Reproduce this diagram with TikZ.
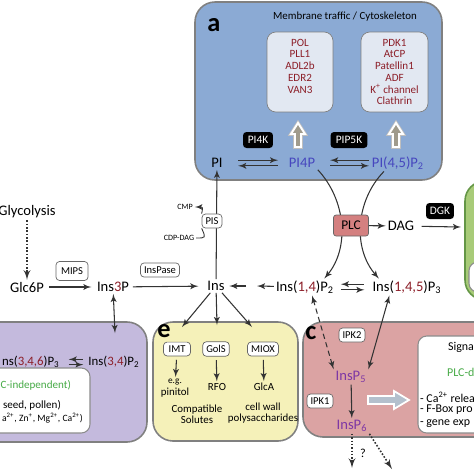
\documentclass[tikz,border=0pt]{standalone}
\usepackage{fontspec}
\setmainfont{Carlito}
\usetikzlibrary{arrows}
\usetikzlibrary{shapes}

\definecolor{blueBox}{RGB}{139,170,212}
\definecolor{purpleBox}{RGB}{196,186,221}
\definecolor{yellowBox}{RGB}{245,241,185}
\definecolor{pinkBox}{RGB}{219,163,163}
\definecolor{greenBox}{RGB}{168,203,120}
\definecolor{greenLine}{RGB}{100,150,70}
\definecolor{listBlue}{RGB}{226,232,242}
\definecolor{darkRed}{RGB}{140,30,40}
\definecolor{lipidBlue}{RGB}{70,70,190}
\definecolor{insPurple}{RGB}{125,55,165}
\definecolor{plcGreen}{RGB}{70,170,70}
\definecolor{plcPink}{RGB}{212,128,128}
\definecolor{arrowGray}{RGB}{160,155,140}
\definecolor{arrowBlueGray}{RGB}{180,192,205}

\begin{document}
\begin{tikzpicture}[x = 0.02cm, y = -0.02cm, font = \fontsize{8.3}{9}\selectfont, >=latex']
	\tikzstyle{metabStyle}=[inner sep = 1pt]
	\tikzstyle{enzymeStyle}=[draw = black!60, fill = white, rounded corners = 2pt, inner sep = 2pt, minimum height = 0.28cm, font = \fontsize{6}{7}\selectfont]
	\tikzstyle{kinaseStyle}=[fill = black, text = white, rounded corners = 2pt, minimum width = 0.6cm, minimum height = 0.32cm, inner sep = 1.5pt, font = \fontsize{6.5}{7}\selectfont]
	\tikzstyle{listStyle}=[draw = black!50, fill = listBlue, rounded corners = 5pt, align = center, text = darkRed, font = \fontsize{6.3}{6.7}\selectfont, minimum width = 1.32cm, minimum height = 1.6cm]
	\tikzstyle{panelStyle}=[draw = black!50, line width = 0.9pt, rounded corners = 0.4cm]
	\tikzstyle{innerStyle}=[draw = black!45, fill = white, line width = 0.6pt, rounded corners = 5pt]
	\tikzstyle{labelStyle}=[inner sep = 0pt, font = \fontsize{15}{15}\selectfont\bfseries]
	\tikzstyle{arrowStyle}=[->, draw = black!80, line width = 0.6pt]
	\tikzstyle{dotStyle}=[->, draw = black!80, densely dotted, line width = 0.9pt]
	\tikzstyle{smallStyle}=[inner sep = 1pt, font = \fontsize{6.2}{6.5}\selectfont, align = center]
	\tikzstyle{listText}=[inner sep = 1pt, font = \fontsize{6.8}{7.5}\selectfont]
	\tikzstyle{leftText}=[inner sep = 1pt, font = \fontsize{6.3}{7}\selectfont]
	\useasboundingbox (0,0) rectangle (474,474);
	\clip (0,0) rectangle (474,474);

	% panels
	\draw[panelStyle, fill = blueBox] (195,2) rectangle (442,180);
	\draw[panelStyle, fill = purpleBox] (-40,322) rectangle (147,442);
	\draw[panelStyle, fill = yellowBox] (153,322) rectangle (298,441);
	\draw[panelStyle, fill = pinkBox] (303,322) rectangle (540,437);
	\draw[panelStyle, fill = greenBox, draw = greenLine] (465,181) rectangle (540,300);
	\draw[innerStyle] (469,262) rectangle (540,292);

	% a: membrane traffic
	\node[labelStyle] (lblA) at (214,25) {a};
	\node[font = \fontsize{6.2}{7}\selectfont] (membTitle) at (345,17) {Membrane traffic / Cytoskeleton};
	\node[listStyle] (listPI4P) at (300,72) {POL\\PLL1\\ADL2b\\EDR2\\VAN3\\\mbox{}};
	\node[listStyle, minimum width = 1.34cm] (listPIP2) at (394.5,72) {PDK1\\AtCP\\Patellin1\\ADF\\K\textsuperscript{+} channel\\Clathrin};
	\foreach \ax in {298,396}
		\filldraw[fill = arrowGray, draw = white, line width = 1.1pt, preaction = {draw = black!25, line width = 2pt}] (\ax-3,147) -- (\ax-3,134) -- (\ax-7,134) -- (\ax,123) -- (\ax+7,134) -- (\ax+3,134) -- (\ax+3,147) -- cycle;
	\node[kinaseStyle] (pi4k) at (258,140) {PI4K};
	\node[kinaseStyle, minimum width = 0.74cm] (pip5k) at (349,140) {PIP5K};
	\node[metabStyle] (pi) at (217,163) {PI};
	\node[metabStyle, text = lipidBlue] (pi4p) at (302,163) {PI4P};
	\node[metabStyle, text = lipidBlue] (pip2) at (398,163) {PI(4,5)P\textsubscript{2}};
	\draw[arrowStyle, transform canvas = {yshift = 1.6pt}, shorten <= 7.7pt, shorten >= 5pt] (pi) -- (pi4p);
	\draw[arrowStyle, <-, transform canvas = {yshift = -1.6pt}, shorten <= 7.7pt, shorten >= 5pt] (pi) -- (pi4p);
	\draw[arrowStyle, <-, transform canvas = {yshift = 1.6pt}, shorten <= 7.4pt, shorten >= 0.5pt] (pi4p) -- (pip2);
	\draw[arrowStyle, transform canvas = {yshift = -1.6pt}, shorten <= 7.4pt, shorten >= 0.5pt] (pi4p) -- (pip2);

	% Ins row
	\node[metabStyle] (glyc) at (27,212) {Glycolysis};
	\node[metabStyle] (glc6p) at (27,287) {Glc6P};
	\node[metabStyle] (ins3p) at (113,287) {Ins\textcolor{darkRed}{3}P};
	\node[metabStyle] (ins) at (216,286) {Ins};
	\node[metabStyle] (i14) at (305,287) {Ins(\textcolor{darkRed}{1,4})P\textsubscript{2}};
	\node[metabStyle] (i145) at (407,287) {Ins(\textcolor{darkRed}{1,4,5})P\textsubscript{3}};
	\node[enzymeStyle, minimum width = 0.64cm, minimum height = 0.38cm] (mips) at (72,271) {MIPS};
	\node[enzymeStyle, minimum width = 0.78cm] (inspase) at (160,270) {InsPase};
	\draw[dotStyle] (glyc) -- (glc6p);
	\draw[arrowStyle, shorten <= 2pt, shorten >= 2pt] (glc6p) -- (ins3p);
	\draw[arrowStyle, shorten <= 1pt, shorten >= 4pt] (ins3p) -- (ins);
	\draw[arrowStyle] (ins) -- (pi);
	\node[enzymeStyle] (pis) at (212,221) {PIS};
	\node[font = \fontsize{4.6}{5}\selectfont, inner sep = 1pt] (cmp) at (185,207) {CMP};
	\node[font = \fontsize{4.6}{5}\selectfont, inner sep = 1pt] (cdpdag) at (179,238) {CDP-DAG};
	\draw[arrowStyle, line width = 0.5pt] (pis.north west) .. controls (203,207) .. (cmp.east);
	\draw[draw = black!80, line width = 0.5pt] (cdpdag.east) .. controls (206,238) .. (pis.south west);
	\coordinate (gapR) at (257,286);
	\coordinate (gapL) at (246,286);
	\draw[arrowStyle] (i14) -- (gapR);
	\draw[arrowStyle, shorten >= 1.5pt] (gapL) -- (ins);
	\draw[arrowStyle, <-, transform canvas = {yshift = 1.6pt}, shorten <= 2.7pt, shorten >= 3.4pt] (i14) -- (i145);
	\draw[arrowStyle, transform canvas = {yshift = -1.6pt}, shorten <= 2.7pt, shorten >= 3.4pt] (i14) -- (i145);

	% PLC
	\draw[arrowStyle] ([xshift = 9pt]pi4p.south) .. controls (346,200) and (350,248) .. ([xshift = 11pt]i14.north);
	\draw[arrowStyle] ([xshift = -8pt]pip2.south) .. controls (356,200) and (352,248) .. ([xshift = -16pt]i145.north);
	\node[draw = black!60, fill = plcPink, rounded corners = 1.5pt, minimum width = 0.7cm, minimum height = 0.42cm, font = \fontsize{7.6}{8}\selectfont] (plc) at (351,225.5) {PLC};
	\node[metabStyle] (dag) at (401,226) {DAG};
	\node[kinaseStyle, minimum width = 0.56cm] (dgk) at (440,211) {DGK};
	\coordinate (greenIn) at (461,227);
	\draw[arrowStyle] (plc) -- (dag);
	\draw[arrowStyle, shorten <= 3pt] (dag) -- (greenIn);

	% purple panel
	\node[metabStyle, anchor = west, font = \fontsize{7.3}{8}\selectfont] (i346) at (0,362) {ns(\textcolor{darkRed}{3,4,6})P\textsubscript{3}};
	\node[metabStyle, font = \fontsize{7.3}{8}\selectfont] (i34) at (114,362) {Ins(\textcolor{darkRed}{3,4})P\textsubscript{2}};
	\draw[arrowStyle, <-, transform canvas = {yshift = 1.5pt}, shorten <= 4pt, shorten >= 1.7pt] (i346) -- (i34);
	\draw[arrowStyle, transform canvas = {yshift = -1.5pt}, shorten <= 4pt, shorten >= 1.7pt] (i346) -- (i34);
	\coordinate (purpleIn) at (115,333);
	\draw[arrowStyle, <->] (ins3p) -- (purpleIn);
	\draw[innerStyle] (-20,368) rectangle (90,433);
	\node[leftText, anchor = east, text = plcGreen] (plcIndep) at (73,385) {C-independent)};
	\node[leftText, anchor = east] (seedTxt) at (63,405) {seed, pollen)};
	\node[leftText, anchor = west, font = \fontsize{5.5}{6}\selectfont] (ionTxt) at (0,418) {a\textsuperscript{2+}, Zn\textsuperscript{+}, Mg\textsuperscript{2+}, Ca\textsuperscript{2+})};

	% e: yellow panel
	\node[labelStyle] (lblE) at (164,331) {e};
	\node[enzymeStyle, minimum width = 0.54cm, minimum height = 0.26cm] (imt) at (177,349) {IMT};
	\node[enzymeStyle, minimum width = 0.46cm, minimum height = 0.26cm] (gols) at (216,349) {GolS};
	\node[enzymeStyle, minimum width = 0.6cm, minimum height = 0.26cm] (miox) at (263,349) {MIOX};
	\coordinate (eIMT) at (182,327);
	\coordinate (eGolS) at (217,325);
	\coordinate (eMIOX) at (252,327);
	\draw[arrowStyle] (ins) -- (eIMT);
	\draw[arrowStyle] (ins) -- (eGolS);
	\draw[arrowStyle] (ins) -- (eMIOX);
	\node[smallStyle] (pinitol) at (175,388) {{\fontsize{5.3}{6}\selectfont e.g.}\\pinitol};
	\node[smallStyle] (rfo) at (217,387) {RFO};
	\node[smallStyle] (glca) at (264,387) {GlcA};
	\draw[arrowStyle, shorten <= 2pt] (imt) -- (pinitol);
	\draw[arrowStyle, shorten <= 2pt] (gols) -- (rfo);
	\draw[arrowStyle, shorten <= 2pt] (miox) -- (glca);
	\node[smallStyle] (compat) at (197,414) {Compatible\\Solutes};
	\node[smallStyle] (cellwall) at (263,413) {cell wall\\polysaccharides};

	% c: pink panel
	\node[labelStyle] (lblC) at (311,333) {c};
	\node[enzymeStyle, minimum width = 0.5cm] (ipk2) at (352,335) {IPK2};
	\node[metabStyle, text = insPurple] (insp5) at (351,377) {InsP\textsubscript{5}};
	\node[enzymeStyle, minimum width = 0.5cm] (ipk1) at (320,401) {IPK1};
	\node[metabStyle, text = insPurple] (insp6) at (352,426) {InsP\textsubscript{6}};
	\draw[arrowStyle] (insp5) -- (insp6);
	\draw[arrowStyle, <->, densely dashed] ([xshift = 4pt]i14.south) -- (insp5.north west);
	\draw[arrowStyle, <->] ([xshift = -10pt]i145.south) -- (insp5.north east);
	\filldraw[fill = arrowBlueGray, draw = white, line width = 1pt] (368,396) -- (394,396) -- (394,391) -- (409,400) -- (394,409) -- (394,404) -- (368,404) -- cycle;
	\draw[innerStyle] (418,336) rectangle (540,433);
	\node[listText, anchor = west] (signaTxt) at (446,347) {Signa};
	\node[listText, anchor = west, text = plcGreen] (plcdTxt) at (445,372) {PLC-d};
	\node[listText, anchor = west] (caTxt) at (418,397) {- Ca\textsuperscript{2+} relea};
	\node[listText, anchor = west] (fboxTxt) at (418,410) {- F-Box pro};
	\node[listText, anchor = west] (geneTxt) at (418,424) {- gene exp};
	\coordinate (outA) at (352,468);
	\coordinate (outB) at (392,469);
	\draw[dotStyle] (insp6) -- (outA);
	\draw[dotStyle] (insp6.south east) -- (outB);
	\node[font = \fontsize{7}{8}\selectfont] (qMark) at (363,453) {?};
\end{tikzpicture}
\end{document}
